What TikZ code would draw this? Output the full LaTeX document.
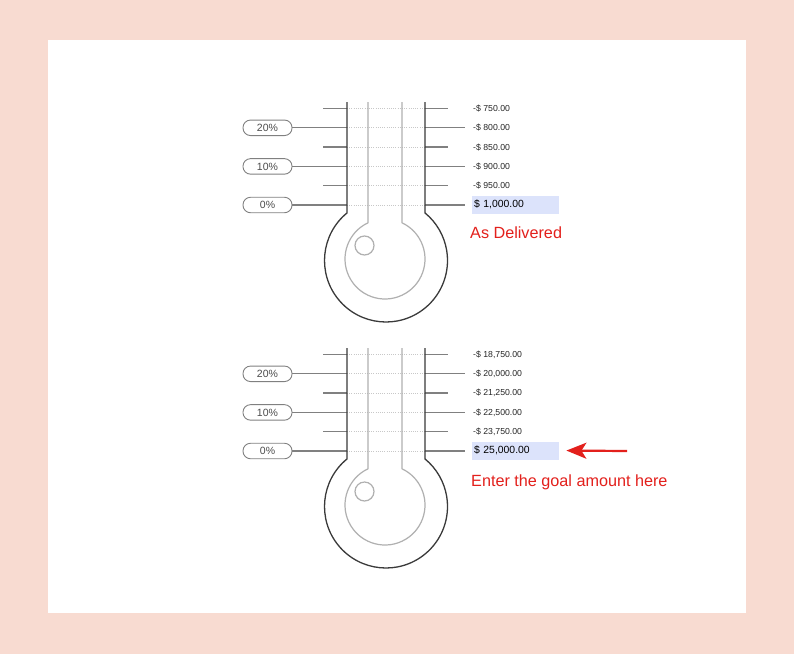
\documentclass[tikz,border=0pt]{standalone}
\usepackage{fontspec}
\setmainfont{Liberation Sans}
\usetikzlibrary{arrows.meta}
\definecolor{bgpink}{HTML}{F8DBD1}
\definecolor{hlblue}{HTML}{DCE3FB}
\definecolor{redtxt}{HTML}{E3201C}
\definecolor{tickgray}{HTML}{808080}
\definecolor{wallgray}{HTML}{3A3A3A}
\definecolor{innergray}{HTML}{B0B0B0}
\definecolor{dotgray}{HTML}{C8C8C8}
\tikzset{
  x=1pt, y=-1pt,
  outerwall/.style={draw=wallgray, line width=1.3pt},
  innerwall/.style={draw=innergray, line width=1.2pt},
  dotline/.style={draw=dotgray, line width=0.7pt, dash pattern=on 1pt off 1.2pt},
  tickline/.style={draw=tickgray, line width=1.25pt},
  pill/.style={draw=tickgray, line width=0.9pt, rounded corners=7.5pt, minimum width=49pt, minimum height=15.5pt, inner sep=0pt, text=black!70, font=\fontsize{10.5}{12}\selectfont},
  amount/.style={anchor=west, inner sep=0pt, text=black!85, font=\fontsize{8.7}{10}\selectfont},
  goalbox/.style={anchor=west, fill=hlblue, minimum width=87pt, minimum height=18pt, text width=83pt, align=left, inner xsep=2pt, inner ysep=0pt, text=black, font=\fontsize{10.4}{12}\selectfont},
  note/.style={anchor=west, inner sep=0pt, text=redtxt, font=\fontsize{16.2}{19}\selectfont},
  redarrow/.style={draw=redtxt, line width=2.2pt, -{Stealth[length=20pt, width=16pt, inset=5pt]}}
}
\newcommand\drawthermo[8]{%
\begin{scope}[shift={(0,#2)}]
  % tick rows
  \foreach \i/\yy in {0/108.5,1/127.8,2/147.1,3/166.4,4/185.7,5/205}{
    \coordinate (#1-L\i) at (347,\yy);
    \coordinate (#1-R\i) at (425,\yy);
    \draw[dotline] (#1-L\i) -- (#1-R\i);
  }
  % minor ticks
  \foreach \i/\yy in {0/108.5,2/147.1,4/185.7}{
    \coordinate (#1-ml\i) at (323,\yy);
    \coordinate (#1-mr\i) at (448,\yy);
    \draw[tickline] (#1-ml\i) -- (#1-L\i);
    \draw[tickline] (#1-R\i) -- (#1-mr\i);
  }
  % major ticks on the right
  \foreach \i/\yy in {1/127.8,3/166.4,5/205}{
    \coordinate (#1-Mr\i) at (465,\yy);
    \draw[tickline] (#1-R\i) -- (#1-Mr\i);
  }
  % pills
  \node[pill] (#1-p20) at (267.5,127.8) {20\%};
  \node[pill] (#1-p10) at (267.5,166.4) {10\%};
  \node[pill] (#1-p0) at (267.5,205) {0\%};
  \draw[tickline] (#1-p20.east) -- (#1-L1);
  \draw[tickline] (#1-p10.east) -- (#1-L3);
  \draw[tickline] (#1-p0.east) -- (#1-L5);
  % amounts
  \node[amount] (#1-a0) at (473,108.5) {#3};
  \node[amount] (#1-a1) at (473,127.8) {#4};
  \node[amount] (#1-a2) at (473,147.1) {#5};
  \node[amount] (#1-a3) at (473,166.4) {#6};
  \node[amount] (#1-a4) at (473,185.7) {#7};
  \node[goalbox] (#1-box) at (472,204.5) {#8};
  % walls
  \draw[outerwall] (347,102) -- (347,212.95)
     arc[start angle=230.63, end angle=-50.63, radius=61.5] -- (425,102);
  \draw[innerwall] (368,102) -- (368,222.8)
     arc[start angle=244.85, end angle=-64.85, radius=40] -- (402,102);
  \draw[innerwall] (364.5,245.5) circle[radius=9.5];
\end{scope}}
\begin{document}
\begin{tikzpicture}
  \useasboundingbox (0,0) rectangle (794,654);
  \fill[bgpink] (0,0) rectangle (794,654);
  \fill[white] (48,40) rectangle (746,613);
  \drawthermo{t}{0}{-\$ 750.00}{-\$ 800.00}{-\$ 850.00}{-\$ 900.00}{-\$ 950.00}{\$ 1,000.00}
  \drawthermo{b}{246}{-\$ 18,750.00}{-\$ 20,000.00}{-\$ 21,250.00}{-\$ 22,500.00}{-\$ 23,750.00}{\$ 25,000.00}
  \node[note] (delivered) at (470,233) {As Delivered};
  \node[note] (enter) at (471,482) {Enter the goal amount here};
  \coordinate (b-tail) at (627,451);
  \draw[redarrow, shorten >=7pt] (b-tail) -- (b-box.east);
\end{tikzpicture}
\end{document}
